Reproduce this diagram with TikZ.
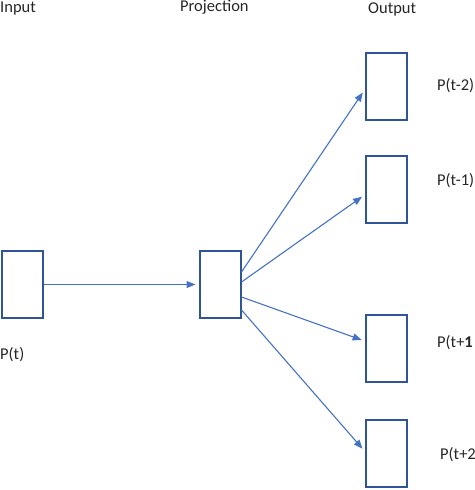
\documentclass[tikz,border=0pt]{standalone}
\usepackage{fontspec}
\setmainfont{Carlito}
\usetikzlibrary{arrows.meta, positioning}
\definecolor{boxblue}{HTML}{2F5597}
\definecolor{arrowblue}{HTML}{4472C4}
\tikzstyle{arrow} = [line width=1.1pt, draw=arrowblue, -{Triangle[length=9pt, width=7pt]}, shorten >=3pt]
\tikzstyle{unitbox} = [rectangle, draw=boxblue, line width=2pt, fill=white,
                       minimum width=41pt, minimum height=67pt, inner sep=0pt]
\tikzstyle{lbl} = [font=\fontsize{16.5}{20}\selectfont, text=black!85, inner sep=0pt, anchor=base west]

\begin{document}
\begin{tikzpicture}[x=1pt, y=-1pt, node distance=155pt]
    \useasboundingbox (0,0) rectangle (474,490);
    % Boxes
    \node[unitbox] (inp) at (22,284.5) {};
    \node[unitbox, right=of inp] (proj) {};
    \node[unitbox] (tm2) at (386,86.5) {};
    \node[unitbox, below=34pt of tm2] (tm1) {};
    \node[unitbox, below=90pt of tm1] (tp1) {};
    \node[unitbox, below=36pt of tp1] (tp2) {};

    % Arrows
    \draw[arrow] (inp) -- (proj);
    \draw[arrow] ([yshift=12.5pt]proj.east) -- ([yshift=-3.5pt]tm2.west);
    \draw[arrow] ([yshift=2.5pt]proj.east) -- ([yshift=-5.5pt]tm1.west);
    \draw[arrow] ([yshift=-12.5pt]proj.east) -- ([yshift=7.5pt]tp1.west);
    \draw[arrow] ([yshift=-25.5pt]proj.east) -- ([yshift=2.5pt]tp2.west);

    % Headings
    \node[lbl] (tin) at (0,12.7) {Input};
    \node[lbl] (tproj) at (180,11) {Projection};
    \node[lbl] (tout) at (368,13.3) {Output};

    % Word labels
    \node[lbl] (lin) at (0,359) {P(t)};
    \node[lbl] (ltm2) at (437,90) {P(t-2)};
    \node[lbl] (ltm1) at (437,185.7) {P(t-1)};
    \node[lbl] (ltp1) at (437,347.7) {P(t+\textbf{1}};
    \node[lbl] (ltp2) at (440,459) {P(t+2};
\end{tikzpicture}
\end{document}
